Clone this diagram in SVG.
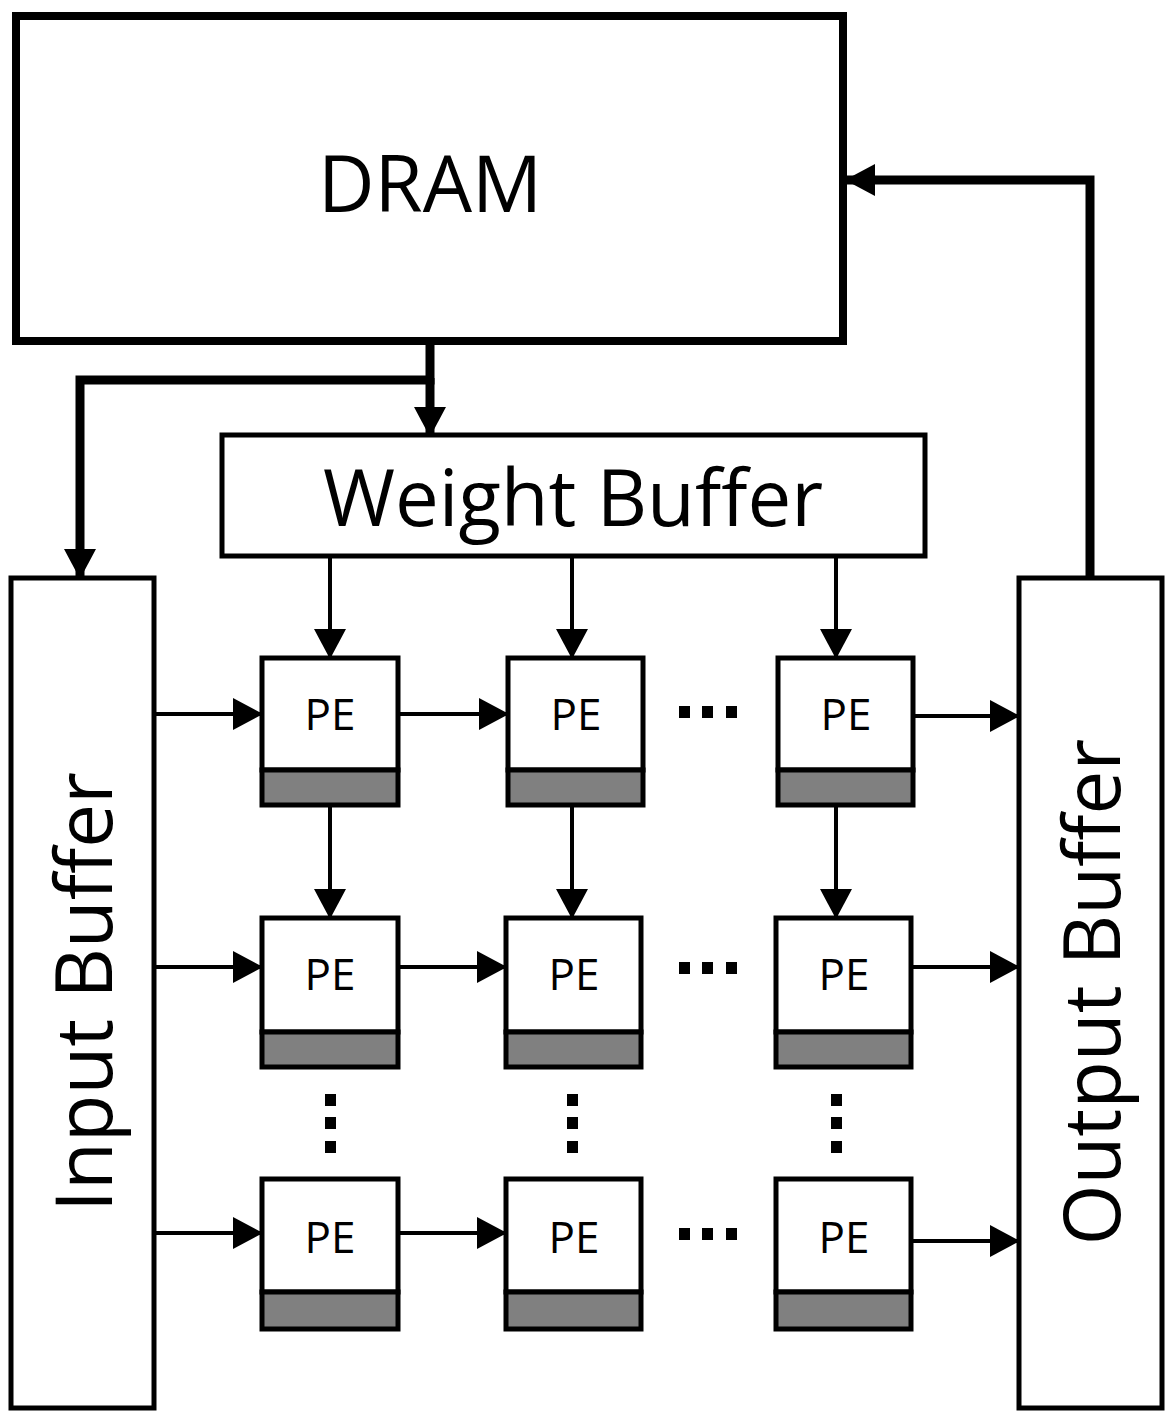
<svg xmlns="http://www.w3.org/2000/svg" width="1174" height="1422" viewBox="0 0 1174 1422">
<style>
.box{fill:#fff;stroke:#000;stroke-width:5}
.gray{fill:#808080;stroke:#000;stroke-width:5}
.t{font-family:"Open Sans","Noto Sans",sans-serif;fill:#000;text-anchor:middle}
.thin{stroke:#000;stroke-width:4;fill:none}
.thick{stroke:#000;stroke-width:9;fill:none}
</style>
<defs>
<marker id="a" markerUnits="userSpaceOnUse" markerWidth="30" markerHeight="32" refX="28" refY="16" orient="auto"><path d="M0,0L30,16L0,32z" fill="#000"/></marker>
<marker id="b" markerUnits="userSpaceOnUse" markerWidth="30" markerHeight="32" refX="28" refY="16" orient="auto"><path d="M0,0L30,16L0,32z" fill="#000"/></marker>
</defs>
<g id="dram"><rect class="box" x="16" y="16" width="827" height="325" style="stroke-width:8"/><text class="t" x="430" y="212" font-size="78">DRAM</text></g>
<g id="weight-buffer"><rect class="box" x="222" y="435" width="703" height="121"/><text class="t" x="573" y="526" font-size="78">Weight Buffer</text></g>
<g id="input-buffer"><rect class="box" x="11" y="578" width="143" height="830"/><text class="t" font-size="78" transform="translate(112,992) rotate(-90)">Input Buffer</text></g>
<g id="output-buffer"><rect class="box" x="1019" y="578" width="143" height="830"/><text class="t" font-size="78" transform="translate(1120,992) rotate(-90)">Output Buffer</text></g>
<g id="pes">
<g id="pe-1-1"><rect class="box" x="262" y="658" width="136" height="112"/><rect class="gray" x="262" y="770" width="136" height="35"/><text class="t" x="330" y="730" font-size="44">PE</text></g>
<g id="pe-1-2"><rect class="box" x="508" y="658" width="135" height="112"/><rect class="gray" x="508" y="770" width="135" height="35"/><text class="t" x="576" y="730" font-size="44">PE</text></g>
<g id="pe-1-3"><rect class="box" x="778" y="658" width="135" height="112"/><rect class="gray" x="778" y="770" width="135" height="35"/><text class="t" x="846" y="730" font-size="44">PE</text></g>
<g id="pe-2-1"><rect class="box" x="262" y="918" width="136" height="114"/><rect class="gray" x="262" y="1032" width="136" height="35"/><text class="t" x="330" y="990" font-size="44">PE</text></g>
<g id="pe-2-2"><rect class="box" x="506" y="918" width="135" height="114"/><rect class="gray" x="506" y="1032" width="135" height="35"/><text class="t" x="574" y="990" font-size="44">PE</text></g>
<g id="pe-2-3"><rect class="box" x="776" y="918" width="135" height="114"/><rect class="gray" x="776" y="1032" width="135" height="35"/><text class="t" x="844" y="990" font-size="44">PE</text></g>
<g id="pe-3-1"><rect class="box" x="262" y="1179" width="136" height="113"/><rect class="gray" x="262" y="1292" width="136" height="37"/><text class="t" x="330" y="1253" font-size="44">PE</text></g>
<g id="pe-3-2"><rect class="box" x="506" y="1179" width="135" height="113"/><rect class="gray" x="506" y="1292" width="135" height="37"/><text class="t" x="574" y="1253" font-size="44">PE</text></g>
<g id="pe-3-3"><rect class="box" x="776" y="1179" width="135" height="113"/><rect class="gray" x="776" y="1292" width="135" height="37"/><text class="t" x="844" y="1253" font-size="44">PE</text></g>
</g>
<g id="dots" fill="#000">
<rect x="679" y="706" width="11" height="12"/><rect x="702" y="706" width="11" height="12"/><rect x="726" y="706" width="11" height="12"/>
<rect x="679" y="962" width="11" height="12"/><rect x="702" y="962" width="11" height="12"/><rect x="726" y="962" width="11" height="12"/>
<rect x="679" y="1228" width="11" height="12"/><rect x="702" y="1228" width="11" height="12"/><rect x="726" y="1228" width="11" height="12"/>
<rect x="325" y="1094" width="11" height="12"/><rect x="325" y="1117" width="11" height="12"/><rect x="325" y="1141" width="11" height="12"/>
<rect x="567" y="1094" width="11" height="12"/><rect x="567" y="1117" width="11" height="12"/><rect x="567" y="1141" width="11" height="12"/>
<rect x="831" y="1094" width="11" height="12"/><rect x="831" y="1117" width="11" height="12"/><rect x="831" y="1141" width="11" height="12"/>
</g>
<g id="connectors">
<path class="thick" d="M430,343V380H80V577" marker-end="url(#b)"/>
<path class="thick" d="M430,378V435" marker-end="url(#b)"/>
<path class="thick" d="M1090,577V180H847" marker-end="url(#b)"/>
<path class="thin" d="M330,556V657" marker-end="url(#a)"/>
<path class="thin" d="M572,556V657" marker-end="url(#a)"/>
<path class="thin" d="M836,556V657" marker-end="url(#a)"/>
<path class="thin" d="M330,807V917" marker-end="url(#a)"/>
<path class="thin" d="M572,807V917" marker-end="url(#a)"/>
<path class="thin" d="M836,807V917" marker-end="url(#a)"/>
<path class="thin" d="M155,714H261" marker-end="url(#a)"/>
<path class="thin" d="M399,714H507" marker-end="url(#a)"/>
<path class="thin" d="M913,716H1018" marker-end="url(#a)"/>
<path class="thin" d="M155,967H261" marker-end="url(#a)"/>
<path class="thin" d="M399,967H505" marker-end="url(#a)"/>
<path class="thin" d="M911,967H1018" marker-end="url(#a)"/>
<path class="thin" d="M155,1233H261" marker-end="url(#a)"/>
<path class="thin" d="M399,1233H505" marker-end="url(#a)"/>
<path class="thin" d="M911,1241H1018" marker-end="url(#a)"/>
</g>
</svg>
